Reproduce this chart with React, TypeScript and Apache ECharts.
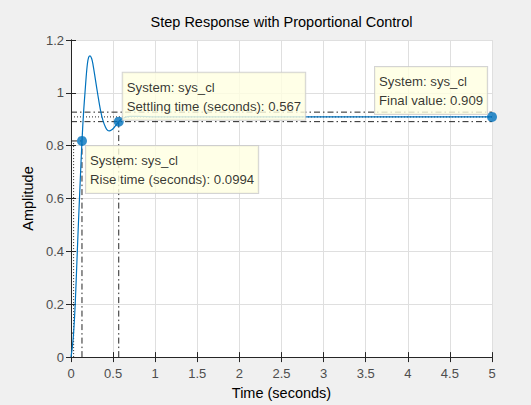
import { useEffect, useRef } from "react";
import * as echarts from "echarts";

// step response
const timeS = [0, 0.015, 0.031, 0.05, 0.07, 0.09, 0.11, 0.1304, 0.15, 0.166, 0.18, 0.195, 0.21, 0.226, 0.245, 0.26, 0.29, 0.32, 0.35, 0.38, 0.41, 0.435, 0.455, 0.48, 0.51, 0.54, 0.567, 0.6, 0.65, 0.7, 0.8, 1, 2, 3, 4, 5];
const amplitude = [0, 0.035, 0.091, 0.2, 0.36, 0.52, 0.67, 0.818, 0.93, 1.0, 1.06, 1.11, 1.135, 1.14, 1.13, 1.11, 1.05, 0.99, 0.935, 0.895, 0.87, 0.858, 0.856, 0.859, 0.868, 0.88, 0.891, 0.9, 0.908, 0.911, 0.911, 0.909, 0.909, 0.909, 0.909, 0.909];

const finalValue = 0.909;
const riseStart = 0.031;
const riseEnd = 0.1304;
const riseLow = 0.0909;
const riseHigh = 0.818;
const settleTime = 0.567;
const settleLow = 0.891;
const settleHigh = 0.927;
const tMax = 5;

const BLUE = "#0072bd";
const FONT = "Liberation Sans, Arial, sans-serif";
const DASHDOT = [6, 3, 1.5, 3];

const refLine = (pts: number[][], type: any) => ({
  type: "line",
  data: pts,
  symbol: "none",
  silent: true,
  lineStyle: { color: "#262626", width: 1, type },
  z: 1,
});

const boxLabel = (text: string, pos: number[]) => ({
  show: true,
  position: pos,
  formatter: text,
  backgroundColor: "#ffffe1",
  borderColor: "#c9c9c9",
  borderWidth: 1,
  padding: [5, 4, 4, 4],
  color: "#000",
  fontFamily: FONT,
  fontSize: 13.2,
  lineHeight: 19,
  align: "left",
  verticalAlign: "top",
});

export default function App() {
  const chartRef = useRef<HTMLDivElement>(null);

  useEffect(() => {
    if (!chartRef.current) return;
    const chart = echarts.init(chartRef.current, null, { renderer: "svg" });

    const axisLine = { show: true, lineStyle: { color: "#262626", width: 1 } };
    const axisTick = { show: true, inside: true, length: 5, lineStyle: { color: "#262626" } };
    const labelStyle = { color: "#4d4d4d", fontSize: 13, fontFamily: FONT };

    chart.setOption({
      animation: false,
      backgroundColor: "#f0f0f0",
      title: {
        text: "Step Response with Proportional Control",
        left: 281.5,
        textAlign: "center",
        top: 14,
        padding: 0,
        textStyle: { fontSize: 14.5, fontWeight: "normal", color: "#000", fontFamily: FONT },
      },
      grid: { left: 71, right: 39, top: 40, bottom: 44, show: true, backgroundColor: "#fff", borderWidth: 0 },
      xAxis: [
        {
          type: "value",
          min: 0,
          max: tMax,
          interval: 0.5,
          name: "Time (seconds)",
          nameLocation: "middle",
          nameGap: 18,
          nameTextStyle: { color: "#000", fontSize: 14.5, fontFamily: FONT, verticalAlign: "top" },
          axisLine,
          axisTick,
          axisLabel: { ...labelStyle, margin: 10 },
          splitLine: { show: true, lineStyle: { color: "#dfdfdf" } },
        },
        {
          type: "value",
          position: "top",
          min: 0,
          max: tMax,
          interval: 0.5,
          axisLine,
          axisTick,
          axisLabel: { show: false },
          splitLine: { show: false },
        },
      ],
      yAxis: [
        {
          type: "value",
          min: 0,
          max: 1.2,
          interval: 0.2,
          name: "Amplitude",
          nameLocation: "middle",
          nameGap: 22,
          nameTextStyle: { color: "#000", fontSize: 14.5, fontFamily: FONT },
          axisLine,
          axisTick,
          axisLabel: { ...labelStyle, margin: 7 },
          splitLine: { show: true, lineStyle: { color: "#dfdfdf" } },
        },
        {
          type: "value",
          position: "right",
          min: 0,
          max: 1.2,
          interval: 0.2,
          axisLine,
          axisTick,
          axisLabel: { show: false },
          splitLine: { show: false },
        },
      ],
      series: [
        // settling bounds
        refLine([[0, settleHigh], [tMax, settleHigh]], DASHDOT),
        refLine([[0, settleLow], [tMax, settleLow]], DASHDOT),
        refLine([[settleTime, 0], [settleTime, settleLow]], DASHDOT),
        // final value
        refLine([[0, finalValue], [tMax, finalValue]], [1, 2]),
        // rise time
        refLine([[0, riseHigh], [riseEnd, riseHigh]], DASHDOT),
        refLine([[riseEnd, 0], [riseEnd, riseHigh]], DASHDOT),
        refLine([[riseStart, 0], [riseStart, riseHigh]], [1, 2]),
        refLine([[0, riseLow], [riseStart, riseLow]], DASHDOT),
        {
          type: "line",
          data: timeS.map((t, i) => [t, amplitude[i]]),
          symbol: "none",
          smooth: 0.3,
          lineStyle: { color: BLUE, width: 1.2 },
          z: 3,
        },
        {
          type: "scatter",
          symbolSize: 10,
          itemStyle: { color: BLUE },
          z: 5,
          data: [
            { value: [riseEnd, riseHigh], label: boxLabel("System: sys_cl\nRise time (seconds): 0.0994", [9, 10]) },
            { value: [settleTime, settleLow], label: boxLabel("System: sys_cl\nSettling time (seconds): 0.567", [9, -44]) },
            { value: [tMax, finalValue], label: boxLabel("System: sys_cl\nFinal value: 0.909", [-112, -45]) },
          ],
        },
      ],
    });

    return () => chart.dispose();
  }, []);

  return (
    <div
      ref={chartRef}
      style={{ position: "fixed", left: 0, top: 0, width: 531, height: 405 }}
    />
  );
}
